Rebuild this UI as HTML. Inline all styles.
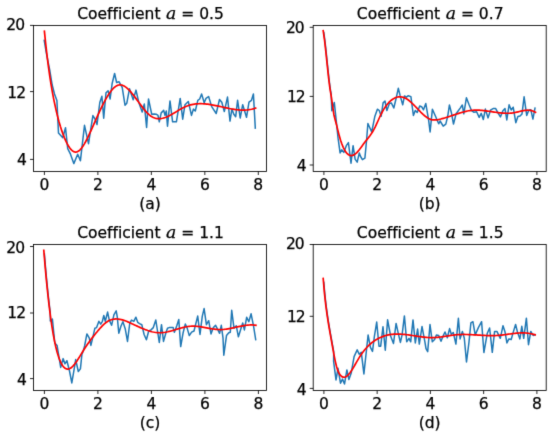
<!DOCTYPE html>
<html><head><meta charset="utf-8"><title>Coefficient plots</title>
<style>
html,body{margin:0;padding:0;background:#fff;}
svg{display:block;}
text{font-family:'DejaVu Sans', 'Liberation Sans', sans-serif;font-size:15.5px;fill:#000;stroke:#000;stroke-width:0.25px;font-variant-ligatures:none;font-feature-settings:"liga" 0,"clig" 0;}
</style></head>
<body>
<svg width="550" height="435" viewBox="0 0 550 435">
<defs><filter id="bl" x="0" y="0" width="550" height="435" filterUnits="userSpaceOnUse" color-interpolation-filters="sRGB"><feConvolveMatrix order="3" kernelMatrix="0.01134 0.08382 0.01134 0.08382 0.61935 0.08382 0.01134 0.08382 0.01134" edgeMode="duplicate"/></filter></defs>
<rect width="550" height="435" fill="#fff"/>
<g filter="url(#bl)">
<rect width="550" height="435" fill="#fff"/>
<clipPath id="clipa"><rect x="33.5" y="25.5" width="233.0" height="146.0"/></clipPath>
<g clip-path="url(#clipa)">
<polyline points="44.20,40.40 45.80,50.00 47.90,61.00 49.90,71.00 52.20,85.00 54.50,94.00 56.90,100.50 58.50,133.10 62.80,137.70 65.50,127.70 67.70,148.70 70.50,154.20 73.80,163.60 77.70,154.20 80.40,160.80 84.50,125.30 88.50,143.70 92.90,115.60 95.00,119.00 97.00,124.60 99.80,102.50 101.90,96.30 103.70,118.30 106.00,92.80 108.10,90.80 110.10,99.00 112.20,83.20 114.60,73.50 116.60,82.50 119.10,81.80 122.20,87.30 125.00,105.20 126.80,103.20 129.50,88.70 133.20,99.70 136.00,90.10 138.80,102.50 142.20,112.10 144.30,103.90 146.60,127.50 148.50,99.00 151.70,114.20 154.20,113.90 156.10,114.20 158.00,115.40 159.30,121.80 161.20,112.90 163.70,110.40 165.00,115.40 166.30,111.00 167.50,126.20 170.00,100.90 172.60,121.80 176.40,121.80 180.20,98.40 182.70,119.20 185.00,104.70 188.30,101.50 191.50,115.40 193.40,109.10 195.30,111.00 197.80,100.30 199.70,99.00 201.60,93.90 204.20,102.80 206.00,98.40 208.60,96.50 211.70,106.60 216.20,113.50 219.50,99.50 221.80,102.20 224.30,111.60 227.50,97.10 230.00,121.10 231.90,109.10 233.80,114.20 235.70,116.70 237.60,100.30 240.20,118.00 242.70,104.70 246.50,117.30 249.00,102.20 251.50,100.30 253.40,93.90 255.30,128.10" fill="none" stroke="#1f77b4" stroke-width="1.5" stroke-linejoin="round" stroke-linecap="square"/>
<polyline points="44.40,31.18 45.73,44.14 47.06,55.82 48.38,66.34 49.71,75.81 51.04,84.35 52.37,92.06 53.70,99.06 55.03,105.45 56.35,111.33 57.68,116.73 59.01,121.70 60.34,126.24 61.67,130.39 63.00,134.15 64.32,137.56 65.65,140.63 66.98,143.37 68.31,145.77 69.64,147.81 70.97,149.48 72.29,150.75 73.62,151.62 74.95,152.06 76.28,152.05 77.61,151.61 78.94,150.77 80.26,149.57 81.59,148.03 82.92,146.19 84.25,144.08 85.58,141.75 86.91,139.23 88.23,136.54 89.56,133.73 90.89,130.83 92.22,127.87 93.55,124.89 94.88,121.90 96.20,118.92 97.53,115.97 98.86,113.06 100.19,110.20 101.52,107.42 102.85,104.73 104.17,102.14 105.50,99.67 106.83,97.33 108.16,95.15 109.49,93.13 110.82,91.30 112.14,89.66 113.47,88.24 114.80,87.05 116.13,86.10 117.46,85.42 118.78,85.01 120.11,84.88 121.44,85.02 122.77,85.42 124.10,86.03 125.43,86.86 126.75,87.88 128.08,89.06 129.41,90.40 130.74,91.86 132.07,93.44 133.40,95.10 134.72,96.84 136.05,98.62 137.38,100.44 138.71,102.27 140.04,104.09 141.37,105.88 142.69,107.62 144.02,109.30 145.35,110.88 146.68,112.36 148.01,113.72 149.34,114.92 150.66,115.97 151.99,116.83 153.32,117.51 154.65,118.04 155.98,118.41 157.31,118.63 158.63,118.72 159.96,118.69 161.29,118.54 162.62,118.28 163.95,117.92 165.28,117.48 166.60,116.96 167.93,116.37 169.26,115.72 170.59,115.02 171.92,114.28 173.25,113.51 174.57,112.72 175.90,111.92 177.23,111.12 178.56,110.32 179.89,109.54 181.22,108.79 182.54,108.07 183.87,107.39 185.20,106.78 186.53,106.22 187.86,105.73 189.18,105.30 190.51,104.92 191.84,104.60 193.17,104.33 194.50,104.11 195.83,103.94 197.15,103.82 198.48,103.74 199.81,103.70 201.14,103.69 202.47,103.73 203.80,103.80 205.12,103.90 206.45,104.03 207.78,104.19 209.11,104.37 210.44,104.57 211.77,104.80 213.09,105.04 214.42,105.29 215.75,105.56 217.08,105.85 218.41,106.13 219.74,106.43 221.06,106.73 222.39,107.03 223.72,107.33 225.05,107.62 226.38,107.91 227.71,108.19 229.03,108.47 230.36,108.73 231.69,108.97 233.02,109.20 234.35,109.40 235.68,109.59 237.00,109.75 238.33,109.88 239.66,109.99 240.99,110.06 242.32,110.10 243.65,110.10 244.97,110.07 246.30,110.00 247.63,109.88 248.96,109.71 250.29,109.50 251.62,109.24 252.94,108.93 254.27,108.56 255.60,108.13" fill="none" stroke="#ff0000" stroke-width="1.7" stroke-linejoin="round" stroke-linecap="square"/>
</g>
<rect x="33.5" y="25.5" width="233.0" height="146.0" fill="none" stroke="#000" stroke-width="0.85" stroke-linejoin="miter"/>
<line x1="44.40" y1="171.5" x2="44.40" y2="175.0" stroke="#000" stroke-width="0.85"/>
<text x="44.40" y="189.70" text-anchor="middle">0</text>
<line x1="97.88" y1="171.5" x2="97.88" y2="175.0" stroke="#000" stroke-width="0.85"/>
<text x="97.88" y="189.70" text-anchor="middle">2</text>
<line x1="151.35" y1="171.5" x2="151.35" y2="175.0" stroke="#000" stroke-width="0.85"/>
<text x="151.35" y="189.70" text-anchor="middle">4</text>
<line x1="204.83" y1="171.5" x2="204.83" y2="175.0" stroke="#000" stroke-width="0.85"/>
<text x="204.83" y="189.70" text-anchor="middle">6</text>
<line x1="258.30" y1="171.5" x2="258.30" y2="175.0" stroke="#000" stroke-width="0.85"/>
<text x="258.30" y="189.70" text-anchor="middle">8</text>
<line x1="30.0" y1="159.40" x2="33.5" y2="159.40" stroke="#000" stroke-width="0.85"/>
<text x="26.80" y="165.30" text-anchor="end">4</text>
<line x1="30.0" y1="91.60" x2="33.5" y2="91.60" stroke="#000" stroke-width="0.85"/>
<text x="26.00" y="97.80" text-anchor="end">1<tspan dx="-1">2</tspan></text>
<line x1="30.0" y1="25.40" x2="33.5" y2="25.40" stroke="#000" stroke-width="0.85"/>
<text x="25.00" y="30.45" text-anchor="end">2<tspan dx="-1">0</tspan></text>
<text x="150.50" y="18.80" text-anchor="middle">Coefficient <tspan dx="0.6" font-family="'DejaVu Serif', 'Liberation Serif', serif" font-style="italic" font-size="17.3px">a</tspan> = 0.5</text>
<text x="150.00" y="209.40" text-anchor="middle">(a)</text>
<clipPath id="clipb"><rect x="313.2" y="25.5" width="233.00000000000006" height="146.0"/></clipPath>
<g clip-path="url(#clipb)">
<polyline points="323.80,32.61 324.47,37.33 325.15,42.75 325.82,48.70 326.49,55.01 327.16,61.50 327.84,67.99 328.51,74.30 329.18,80.26 329.85,85.69 330.53,90.41 331.20,94.33 331.80,110.70 334.30,102.40 338.10,138.40 340.10,152.90 341.70,149.80 343.80,152.40 346.30,145.70 348.40,142.60 350.00,155.00 351.00,163.20 353.10,145.70 355.10,159.10 357.20,162.20 359.30,152.90 360.30,156.00 362.40,159.60 364.90,158.10 366.60,140.00 367.90,123.50 371.70,132.00 374.90,116.20 377.40,109.20 379.30,110.50 381.20,116.20 383.10,102.90 385.00,101.00 386.90,110.50 389.40,103.50 391.30,102.90 393.80,108.00 396.40,97.20 398.30,88.30 400.20,95.90 402.70,104.80 404.50,95.90 406.40,97.20 408.30,95.70 410.90,96.60 413.40,115.50 415.30,110.50 417.20,112.40 419.70,106.00 421.60,106.70 423.50,109.80 425.80,103.50 427.30,112.40 428.60,120.00 430.10,132.00 432.40,109.20 435.50,116.20 438.70,123.80 440.10,121.00 443.20,126.20 445.80,124.10 447.80,115.80 449.40,105.00 451.40,112.70 453.50,124.10 456.10,113.80 460.20,108.10 462.30,105.00 463.80,113.80 466.40,97.80 469.00,104.50 471.60,110.70 473.70,112.20 476.60,111.70 479.20,117.40 481.20,113.30 483.30,119.50 485.40,109.10 488.00,117.90 490.50,110.20 493.10,108.60 495.70,108.60 497.80,112.70 500.40,116.90 502.90,110.70 505.00,108.60 506.80,120.00 509.10,104.80 511.20,110.00 513.20,107.20 515.80,122.70 517.90,116.50 520.00,116.00 522.00,113.90 524.10,96.80 526.70,115.40 528.80,110.30 530.80,109.70 532.90,119.10 535.00,108.20" fill="none" stroke="#1f77b4" stroke-width="1.5" stroke-linejoin="round" stroke-linecap="square"/>
<polyline points="323.20,30.79 324.54,40.17 325.87,51.98 327.21,64.81 328.54,77.30 329.88,88.05 331.21,96.04 332.55,105.53 333.88,114.72 335.22,120.02 336.55,124.91 337.89,130.37 339.22,135.60 340.56,140.16 341.89,144.05 343.23,147.32 344.56,149.99 345.90,152.10 347.23,153.69 348.57,154.77 349.90,155.40 351.24,155.60 352.57,155.41 353.91,154.86 355.25,153.98 356.58,152.80 357.92,151.38 359.25,149.76 360.59,148.00 361.92,146.17 363.26,144.32 364.59,142.52 365.93,140.81 367.26,139.13 368.60,137.44 369.93,135.68 371.27,133.79 372.60,131.71 373.94,129.39 375.27,126.78 376.61,123.94 377.94,120.99 379.28,118.02 380.61,115.16 381.95,112.50 383.28,110.09 384.62,107.91 385.96,105.96 387.29,104.23 388.63,102.70 389.96,101.36 391.30,100.20 392.63,99.22 393.97,98.40 395.30,97.75 396.64,97.27 397.97,96.96 399.31,96.81 400.64,96.82 401.98,97.00 403.31,97.34 404.65,97.83 405.98,98.49 407.32,99.31 408.65,100.26 409.99,101.33 411.32,102.51 412.66,103.77 413.99,105.10 415.33,106.47 416.67,107.86 418.00,109.27 419.34,110.66 420.67,112.03 422.01,113.34 423.34,114.59 424.68,115.75 426.01,116.81 427.35,117.74 428.68,118.53 430.02,119.16 431.35,119.61 432.69,119.87 434.02,119.97 435.36,119.94 436.69,119.80 438.03,119.58 439.36,119.32 440.70,119.02 442.03,118.69 443.37,118.33 444.71,117.95 446.04,117.55 447.38,117.14 448.71,116.70 450.05,116.26 451.38,115.81 452.72,115.36 454.05,114.91 455.39,114.46 456.72,114.01 458.06,113.57 459.39,113.15 460.73,112.74 462.06,112.34 463.40,111.97 464.73,111.63 466.07,111.31 467.40,111.02 468.74,110.77 470.07,110.56 471.41,110.38 472.74,110.25 474.08,110.17 475.42,110.12 476.75,110.11 478.09,110.14 479.42,110.20 480.76,110.29 482.09,110.40 483.43,110.54 484.76,110.70 486.10,110.87 487.43,111.05 488.77,111.25 490.10,111.45 491.44,111.65 492.77,111.86 494.11,112.06 495.44,112.26 496.78,112.45 498.11,112.62 499.45,112.79 500.78,112.93 502.12,113.05 503.45,113.15 504.79,113.22 506.13,113.26 507.46,113.27 508.80,113.24 510.13,113.17 511.47,113.05 512.80,112.89 514.14,112.68 515.47,112.43 516.81,112.13 518.14,111.82 519.48,111.50 520.81,111.18 522.15,110.89 523.48,110.63 524.82,110.42 526.15,110.28 527.49,110.21 528.82,110.24 530.16,110.38 531.49,110.64 532.83,111.04 534.16,111.59 535.50,112.30" fill="none" stroke="#ff0000" stroke-width="1.7" stroke-linejoin="round" stroke-linecap="square"/>
</g>
<rect x="313.2" y="25.5" width="233.00000000000006" height="146.0" fill="none" stroke="#000" stroke-width="0.85" stroke-linejoin="miter"/>
<line x1="323.90" y1="171.5" x2="323.90" y2="175.0" stroke="#000" stroke-width="0.85"/>
<text x="323.90" y="189.70" text-anchor="middle">0</text>
<line x1="377.15" y1="171.5" x2="377.15" y2="175.0" stroke="#000" stroke-width="0.85"/>
<text x="377.15" y="189.70" text-anchor="middle">2</text>
<line x1="430.40" y1="171.5" x2="430.40" y2="175.0" stroke="#000" stroke-width="0.85"/>
<text x="430.40" y="189.70" text-anchor="middle">4</text>
<line x1="483.65" y1="171.5" x2="483.65" y2="175.0" stroke="#000" stroke-width="0.85"/>
<text x="483.65" y="189.70" text-anchor="middle">6</text>
<line x1="536.90" y1="171.5" x2="536.90" y2="175.0" stroke="#000" stroke-width="0.85"/>
<text x="536.90" y="189.70" text-anchor="middle">8</text>
<line x1="309.7" y1="165.00" x2="313.2" y2="165.00" stroke="#000" stroke-width="0.85"/>
<text x="306.50" y="171.45" text-anchor="end">4</text>
<line x1="309.7" y1="96.40" x2="313.2" y2="96.40" stroke="#000" stroke-width="0.85"/>
<text x="305.70" y="101.90" text-anchor="end">1<tspan dx="-1">2</tspan></text>
<line x1="309.7" y1="27.30" x2="313.2" y2="27.30" stroke="#000" stroke-width="0.85"/>
<text x="304.70" y="33.30" text-anchor="end">2<tspan dx="-1">0</tspan></text>
<text x="430.20" y="18.80" text-anchor="middle">Coefficient <tspan dx="0.6" font-family="'DejaVu Serif', 'Liberation Serif', serif" font-style="italic" font-size="17.3px">a</tspan> = 0.7</text>
<text x="429.70" y="209.40" text-anchor="middle">(b)</text>
<clipPath id="clipc"><rect x="33.5" y="244.5" width="233.0" height="146.0"/></clipPath>
<g clip-path="url(#clipc)">
<polyline points="44.40,254.06 44.94,260.55 45.47,266.80 46.01,272.80 46.55,278.57 47.08,284.11 47.62,289.42 48.15,294.51 48.69,299.38 49.23,304.04 49.76,308.49 50.30,312.74 50.30,321.00 52.40,319.00 54.80,343.00 57.10,345.50 60.70,367.40 63.10,358.60 64.90,363.80 66.90,360.70 69.50,371.00 71.80,382.90 74.20,368.90 75.70,359.60 78.30,371.50 80.40,368.90 81.90,354.50 83.50,350.30 84.60,346.00 86.90,333.90 89.20,337.90 90.90,345.40 93.20,335.60 94.90,328.20 96.60,327.60 98.90,321.30 100.70,324.10 102.40,321.30 103.80,315.50 105.30,321.30 107.60,312.10 109.30,320.10 111.60,325.30 113.90,314.90 116.20,310.90 117.30,317.20 118.80,333.30 121.00,326.00 122.90,321.80 125.20,328.70 127.50,341.40 129.80,323.00 131.50,320.10 133.80,321.30 135.90,317.20 137.80,322.40 139.50,323.60 141.80,324.70 144.10,334.50 146.40,339.70 148.70,331.00 151.00,329.90 153.30,327.60 155.80,320.00 159.30,342.50 161.50,324.70 163.50,341.40 165.80,333.30 167.50,328.20 169.20,327.60 171.50,327.60 173.20,327.60 174.40,332.20 176.70,325.90 178.80,319.50 180.70,346.60 183.00,333.30 185.30,324.10 187.00,327.60 189.30,335.60 191.60,332.20 194.00,331.00 197.70,316.10 200.00,334.50 202.30,316.10 204.10,308.60 206.40,324.70 208.70,320.70 211.00,333.90 213.30,327.60 215.60,325.30 217.90,329.90 219.60,333.30 221.30,325.30 223.00,337.90 223.80,355.20 226.50,335.60 228.80,332.80 230.30,332.20 231.70,310.30 234.00,328.20 236.30,325.90 238.40,336.80 240.90,328.70 242.70,323.00 244.40,329.90 246.70,317.20 248.80,321.80 251.10,313.80 253.60,326.40 255.70,339.70" fill="none" stroke="#1f77b4" stroke-width="1.5" stroke-linejoin="round" stroke-linecap="square"/>
<polyline points="43.80,250.32 45.13,266.36 46.47,280.90 47.80,294.02 49.14,305.79 50.47,316.29 51.80,325.59 53.14,333.75 54.47,340.86 55.81,346.99 57.14,352.21 58.47,356.60 59.81,360.22 61.14,363.16 62.48,365.45 63.81,367.15 65.14,368.30 66.48,368.94 67.81,369.10 69.15,368.84 70.48,368.20 71.81,367.21 73.15,365.91 74.48,364.36 75.82,362.59 77.15,360.65 78.48,358.56 79.82,356.39 81.15,354.18 82.48,351.96 83.82,349.78 85.15,347.69 86.49,345.69 87.82,343.76 89.15,341.90 90.49,340.10 91.82,338.35 93.16,336.64 94.49,334.97 95.82,333.31 97.16,331.68 98.49,330.08 99.83,328.54 101.16,327.07 102.49,325.68 103.83,324.39 105.16,323.23 106.50,322.20 107.83,321.31 109.16,320.59 110.50,320.00 111.83,319.56 113.17,319.24 114.50,319.04 115.83,318.96 117.17,318.98 118.50,319.09 119.84,319.29 121.17,319.57 122.50,319.92 123.84,320.33 125.17,320.80 126.51,321.31 127.84,321.86 129.17,322.44 130.51,323.05 131.84,323.66 133.18,324.28 134.51,324.90 135.84,325.53 137.18,326.14 138.51,326.75 139.85,327.35 141.18,327.94 142.51,328.51 143.85,329.05 145.18,329.58 146.52,330.07 147.85,330.54 149.18,330.96 150.52,331.36 151.85,331.71 153.18,332.01 154.52,332.27 155.85,332.48 157.19,332.63 158.52,332.72 159.85,332.75 161.19,332.72 162.52,332.63 163.86,332.48 165.19,332.28 166.52,332.04 167.86,331.76 169.19,331.45 170.53,331.11 171.86,330.74 173.19,330.36 174.53,329.97 175.86,329.56 177.20,329.16 178.53,328.76 179.86,328.37 181.20,328.00 182.53,327.64 183.87,327.31 185.20,327.01 186.53,326.75 187.87,326.53 189.20,326.35 190.54,326.23 191.87,326.16 193.20,326.15 194.54,326.18 195.87,326.26 197.21,326.37 198.54,326.52 199.87,326.69 201.21,326.89 202.54,327.11 203.88,327.35 205.21,327.59 206.54,327.84 207.88,328.09 209.21,328.33 210.55,328.57 211.88,328.79 213.21,328.99 214.55,329.17 215.88,329.32 217.22,329.44 218.55,329.52 219.88,329.56 221.22,329.55 222.55,329.49 223.88,329.39 225.22,329.25 226.55,329.07 227.89,328.86 229.22,328.63 230.55,328.37 231.89,328.10 233.22,327.82 234.56,327.52 235.89,327.22 237.22,326.93 238.56,326.64 239.89,326.35 241.23,326.08 242.56,325.83 243.89,325.60 245.23,325.40 246.56,325.23 247.90,325.10 249.23,325.01 250.56,324.96 251.90,324.96 253.23,325.01 254.57,325.13 255.90,325.30" fill="none" stroke="#ff0000" stroke-width="1.7" stroke-linejoin="round" stroke-linecap="square"/>
</g>
<rect x="33.5" y="244.5" width="233.0" height="146.0" fill="none" stroke="#000" stroke-width="0.85" stroke-linejoin="miter"/>
<line x1="44.40" y1="390.5" x2="44.40" y2="394.0" stroke="#000" stroke-width="0.85"/>
<text x="44.40" y="408.70" text-anchor="middle">0</text>
<line x1="97.90" y1="390.5" x2="97.90" y2="394.0" stroke="#000" stroke-width="0.85"/>
<text x="97.90" y="408.70" text-anchor="middle">2</text>
<line x1="151.40" y1="390.5" x2="151.40" y2="394.0" stroke="#000" stroke-width="0.85"/>
<text x="151.40" y="408.70" text-anchor="middle">4</text>
<line x1="204.90" y1="390.5" x2="204.90" y2="394.0" stroke="#000" stroke-width="0.85"/>
<text x="204.90" y="408.70" text-anchor="middle">6</text>
<line x1="258.40" y1="390.5" x2="258.40" y2="394.0" stroke="#000" stroke-width="0.85"/>
<text x="258.40" y="408.70" text-anchor="middle">8</text>
<line x1="30.0" y1="378.60" x2="33.5" y2="378.60" stroke="#000" stroke-width="0.85"/>
<text x="26.80" y="384.60" text-anchor="end">4</text>
<line x1="30.0" y1="313.00" x2="33.5" y2="313.00" stroke="#000" stroke-width="0.85"/>
<text x="26.00" y="318.35" text-anchor="end">1<tspan dx="-1">2</tspan></text>
<line x1="30.0" y1="246.50" x2="33.5" y2="246.50" stroke="#000" stroke-width="0.85"/>
<text x="25.00" y="252.60" text-anchor="end">2<tspan dx="-1">0</tspan></text>
<text x="150.50" y="237.80" text-anchor="middle">Coefficient <tspan dx="0.6" font-family="'DejaVu Serif', 'Liberation Serif', serif" font-style="italic" font-size="17.3px">a</tspan> = 1.1</text>
<text x="150.00" y="428.40" text-anchor="middle">(c)</text>
<clipPath id="clipd"><rect x="313.2" y="244.5" width="233.00000000000006" height="146.0"/></clipPath>
<g clip-path="url(#clipd)">
<polyline points="323.80,282.33 324.70,292.49 325.60,301.08 326.50,308.46 327.40,314.96 328.30,320.90 329.20,326.41 330.10,331.61 331.00,336.64 331.90,341.59 332.80,346.59 333.70,351.57 333.60,361.40 336.00,379.90 338.00,368.30 340.50,383.20 342.50,379.10 344.50,384.00 346.90,369.90 348.90,379.50 351.30,372.70 354.10,356.60 357.20,349.90 359.20,354.30 361.30,352.30 363.90,373.90 368.10,335.00 370.40,347.40 372.50,351.40 374.40,336.40 376.70,322.10 379.00,346.20 380.70,346.20 383.00,326.70 385.30,350.20 387.60,319.80 390.60,336.00 393.50,343.50 396.10,323.40 398.10,332.60 400.40,342.40 402.10,334.90 404.40,315.90 406.70,341.80 409.00,338.30 410.70,341.80 413.00,319.90 415.30,342.90 417.60,329.10 419.30,344.10 422.00,326.50 424.90,341.80 426.00,348.70 427.70,351.60 430.00,324.50 432.30,341.80 434.60,339.50 436.40,334.90 438.70,335.50 441.00,341.20 443.30,335.50 445.00,332.00 447.30,337.80 449.60,328.60 451.30,334.30 453.30,332.60 455.90,344.10 458.40,318.20 460.10,338.90 462.40,331.40 464.30,338.30 466.50,362.00 468.90,342.90 470.90,322.80 472.90,321.70 475.20,334.90 478.50,327.40 481.60,321.70 483.90,352.50 487.30,333.20 489.60,328.00 492.30,352.30 494.60,331.40 496.90,331.40 500.30,338.30 503.00,325.70 504.90,331.40 506.90,342.90 508.90,338.90 511.20,339.50 513.50,331.40 515.60,324.50 517.60,332.60 519.90,338.90 521.80,326.30 523.70,338.30 526.40,318.20 528.50,344.70 530.80,331.40 533.10,335.50 535.10,334.70" fill="none" stroke="#1f77b4" stroke-width="1.5" stroke-linejoin="round" stroke-linecap="square"/>
<polyline points="323.20,278.54 324.53,293.85 325.87,305.84 327.20,315.63 328.53,324.19 329.86,331.97 331.20,339.37 332.53,346.75 333.86,354.07 335.19,360.83 336.53,366.52 337.86,370.70 339.19,373.55 340.53,375.43 341.86,376.62 343.19,377.20 344.52,377.23 345.86,376.77 347.19,375.86 348.52,374.58 349.85,372.98 351.19,371.12 352.52,369.05 353.85,366.83 355.18,364.52 356.52,362.19 357.85,359.87 359.18,357.65 360.52,355.55 361.85,353.59 363.18,351.77 364.51,350.06 365.85,348.48 367.18,347.01 368.51,345.66 369.84,344.40 371.18,343.24 372.51,342.18 373.84,341.20 375.18,340.30 376.51,339.48 377.84,338.72 379.17,338.04 380.51,337.41 381.84,336.85 383.17,336.35 384.50,335.91 385.84,335.52 387.17,335.18 388.50,334.90 389.84,334.66 391.17,334.46 392.50,334.31 393.83,334.20 395.17,334.13 396.50,334.09 397.83,334.09 399.16,334.11 400.50,334.17 401.83,334.25 403.16,334.35 404.49,334.47 405.83,334.62 407.16,334.77 408.49,334.95 409.83,335.13 411.16,335.32 412.49,335.52 413.82,335.72 415.16,335.93 416.49,336.13 417.82,336.33 419.15,336.52 420.49,336.71 421.82,336.88 423.15,337.04 424.49,337.19 425.82,337.32 427.15,337.43 428.48,337.51 429.82,337.57 431.15,337.61 432.48,337.61 433.81,337.58 435.15,337.52 436.48,337.42 437.81,337.30 439.15,337.16 440.48,337.00 441.81,336.82 443.14,336.63 444.48,336.43 445.81,336.22 447.14,336.01 448.47,335.80 449.81,335.60 451.14,335.41 452.47,335.22 453.81,335.05 455.14,334.90 456.47,334.77 457.80,334.67 459.14,334.58 460.47,334.53 461.80,334.49 463.13,334.47 464.47,334.46 465.80,334.48 467.13,334.50 468.46,334.54 469.80,334.60 471.13,334.66 472.46,334.73 473.80,334.80 475.13,334.88 476.46,334.96 477.79,335.05 479.13,335.13 480.46,335.22 481.79,335.30 483.12,335.37 484.46,335.44 485.79,335.50 487.12,335.55 488.46,335.59 489.79,335.62 491.12,335.64 492.45,335.64 493.79,335.62 495.12,335.58 496.45,335.52 497.78,335.44 499.12,335.34 500.45,335.21 501.78,335.07 503.12,334.91 504.45,334.75 505.78,334.57 507.11,334.39 508.45,334.20 509.78,334.02 511.11,333.83 512.44,333.66 513.78,333.50 515.11,333.35 516.44,333.22 517.77,333.10 519.11,333.01 520.44,332.95 521.77,332.91 523.11,332.91 524.44,332.94 525.77,333.01 527.10,333.12 528.44,333.28 529.77,333.49 531.10,333.74 532.43,334.06 533.77,334.42 535.10,334.85" fill="none" stroke="#ff0000" stroke-width="1.7" stroke-linejoin="round" stroke-linecap="square"/>
</g>
<rect x="313.2" y="244.5" width="233.00000000000006" height="146.0" fill="none" stroke="#000" stroke-width="0.85" stroke-linejoin="miter"/>
<line x1="323.90" y1="390.5" x2="323.90" y2="394.0" stroke="#000" stroke-width="0.85"/>
<text x="323.90" y="408.70" text-anchor="middle">0</text>
<line x1="377.15" y1="390.5" x2="377.15" y2="394.0" stroke="#000" stroke-width="0.85"/>
<text x="377.15" y="408.70" text-anchor="middle">2</text>
<line x1="430.40" y1="390.5" x2="430.40" y2="394.0" stroke="#000" stroke-width="0.85"/>
<text x="430.40" y="408.70" text-anchor="middle">4</text>
<line x1="483.65" y1="390.5" x2="483.65" y2="394.0" stroke="#000" stroke-width="0.85"/>
<text x="483.65" y="408.70" text-anchor="middle">6</text>
<line x1="536.90" y1="390.5" x2="536.90" y2="394.0" stroke="#000" stroke-width="0.85"/>
<text x="536.90" y="408.70" text-anchor="middle">8</text>
<line x1="309.7" y1="388.40" x2="313.2" y2="388.40" stroke="#000" stroke-width="0.85"/>
<text x="306.50" y="394.50" text-anchor="end">4</text>
<line x1="309.7" y1="316.30" x2="313.2" y2="316.30" stroke="#000" stroke-width="0.85"/>
<text x="305.70" y="322.20" text-anchor="end">1<tspan dx="-1">2</tspan></text>
<line x1="309.7" y1="244.50" x2="313.2" y2="244.50" stroke="#000" stroke-width="0.85"/>
<text x="304.70" y="249.45" text-anchor="end">2<tspan dx="-1">0</tspan></text>
<text x="430.20" y="237.80" text-anchor="middle">Coefficient <tspan dx="0.6" font-family="'DejaVu Serif', 'Liberation Serif', serif" font-style="italic" font-size="17.3px">a</tspan> = 1.5</text>
<text x="429.70" y="428.40" text-anchor="middle">(d)</text>
</g>
</svg>
</body></html>
